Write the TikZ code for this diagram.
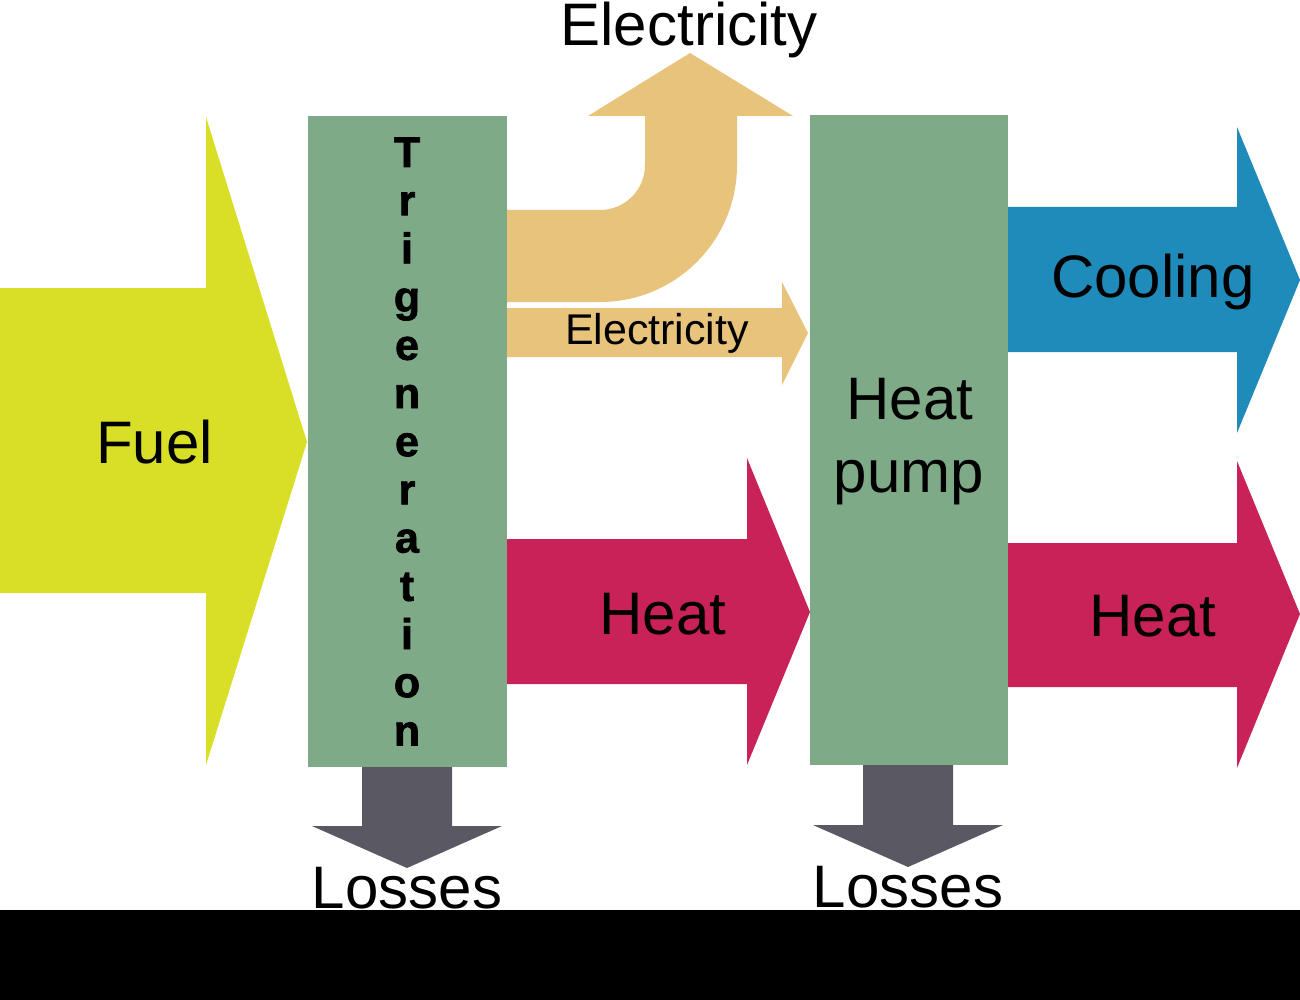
\documentclass[tikz,border=0pt]{standalone}
\usepackage{fontspec}
\setmainfont{Liberation Sans}
\newfontfamily\tgfont[BoldFeatures={FakeBold=1.6}]{Liberation Sans}
\definecolor{fuelc}{HTML}{D8DF26}
\definecolor{boxc}{HTML}{7EAA88}
\definecolor{elecc}{HTML}{E8C37C}
\definecolor{heatc}{HTML}{C82259}
\definecolor{coolc}{HTML}{1F8BBA}
\definecolor{lossc}{HTML}{5A5963}
\tikzset{
  blockbox/.style={fill=boxc, draw=none, inner sep=0pt},
  bigtxt/.style={anchor=base, inner sep=0pt, font=\fontsize{60}{72}\selectfont},
  smalltxt/.style={anchor=base, inner sep=0pt, font=\fontsize{43}{50}\selectfont},
  tgletter/.style={anchor=base, inner sep=0pt, font=\tgfont\fontsize{43}{50}\selectfont\bfseries},
}
\begin{document}
\begin{tikzpicture}[x=1pt,y=-1pt]
\useasboundingbox (0,0) rectangle (1300,1000);
\fill[white] (0,0) rectangle (1300,1000);
% bottom band
\fill[black] (0,910) rectangle (1300,1000);

% boxes
\node[blockbox, minimum width=199, minimum height=651] (trigen) at (407.5,441.5) {};
\node[blockbox, minimum width=198, minimum height=650] (hp) at (909,440) {};

% Fuel arrow
\fill[fuelc] (0,288) -- (206,288) -- (206,117) -- (307,442) -- (206,765) -- (206,593) -- (0,593) -- cycle;
\node[bigtxt] (fuel) at (154.5,463) {Fuel};

% curved electricity arrow
\fill[elecc] (507,210) -- (600,210) .. controls (624.9,210) and (645,189.9) .. (645,165)
  -- (645,116) -- (588,116) -- (690,53) -- (793,116) -- (737,116) -- (737,165)
  .. controls (737,240.7) and (675.7,302) .. (600,302) -- (507,302) -- cycle;
\node[bigtxt] (electop) at (689,46) {Electricity};

% straight electricity arrow
\fill[elecc] (507,308) -- (782,308) -- (782,282) -- (808,333) -- (782,385) -- (782,357) -- (507,357) -- cycle;
\node[smalltxt] (elecmid) at (657,344) {Electricity};

% heat arrow left
\fill[heatc] (507,539) -- (747,539) -- (747,458) -- (810,612) -- (747,765) -- (747,684) -- (507,684) -- cycle;
\node[bigtxt] (heatl) at (663,634) {Heat};

% cooling arrow
\fill[coolc] (1008,207) -- (1237,207) -- (1237,127) -- (1300,280) -- (1237,433) -- (1237,352) -- (1008,352) -- cycle;
\node[bigtxt] (cool) at (1153,297) {Cooling};

% heat arrow right
\fill[heatc] (1008,543) -- (1237,543) -- (1237,461) -- (1300,614) -- (1237,768) -- (1237,687) -- (1008,687) -- cycle;
\node[bigtxt] (heatr) at (1153,636) {Heat};

% losses arrows
\fill[lossc] (362,767) -- (452,767) -- (452,826) -- (502,826) -- (407,868) -- (312,826) -- (362,826) -- cycle;
\node[bigtxt] (lossl) at (407,908) {Losses};
\fill[lossc] (863,765) -- (953,765) -- (953,825) -- (1003,825) -- (908,867) -- (813,825) -- (863,825) -- cycle;
\node[bigtxt] (lossr) at (908,907) {Losses};

% box labels
\foreach \l [count=\i] in {T,r,i,g,e,n,e,r,a,t,i,o,n}
  \node[tgletter] (tg\i) at (407,{167+48.2*(\i-1)}) {\l};
\node[bigtxt] (hpa) at (910,419) {Heat};
\node[bigtxt] (hpb) at (909,492) {pump};
\end{tikzpicture}
\end{document}
